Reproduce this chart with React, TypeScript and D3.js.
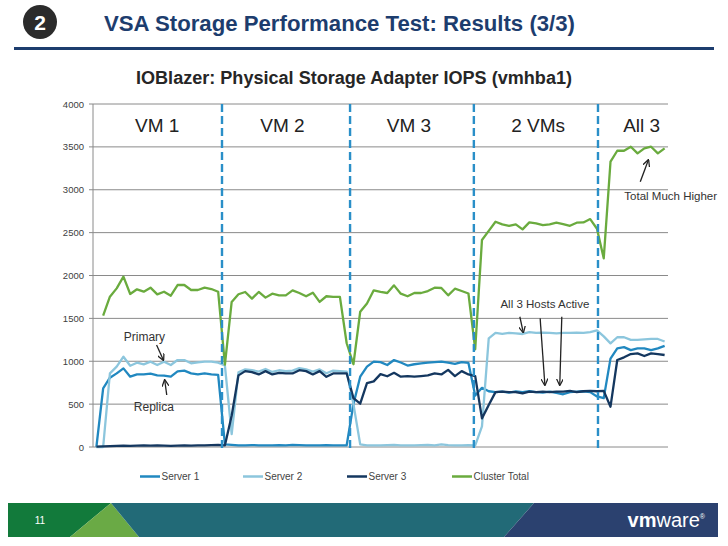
import React from "react";
import * as d3 from "d3";

const W = 728;
const H = 546;

// ---------- data ----------
const seriesNames = ["Server 1", "Server 2", "Server 3", "Cluster Total"];
const seriesColors = ["#2188c0", "#8cc6dd", "#14375f", "#6aab3e"];

const server1: (number | null)[] = [
  0,
  684, 808, 859, 917, 820, 847, 847, 855, 836, 832, 820, 882, 890, 859, 847, 859, 847, 840,
  30,
  25, 20, 20, 22, 20, 18, 20, 22, 20, 25, 22, 20, 18, 20, 22, 20, 18, 20,
  500,
  820, 937, 995, 990, 956, 1014, 985, 950, 965, 975, 985, 990, 995, 985, 970, 990, 980,
  600,
  690, 650, 640, 645, 635, 648, 640, 650, 640, 635, 645, 630, 615, 640, 645, 650, 640, 590,
  570,
  1030, 1150, 1165, 1130, 1150, 1150, 1130, 1150, 1180,
];

const server2: (number | null)[] = [
  0, 0,
  859, 937, 1053, 948, 983, 964, 995, 956, 995, 956, 1014, 1014, 976, 987, 995, 995, 983,
  950,
  150,
  870, 905, 895, 880, 910, 875, 895, 885, 890, 920, 905, 880, 905, 860, 890, 885, 880,
  500,
  30, 20, 18, 20, 22, 25, 20, 18, 20, 22, 25, 20, 30, 22, 18, 20, 22, 20,
  240,
  1267, 1330, 1320, 1330, 1325, 1318, 1340, 1330, 1335, 1330, 1325, 1330, 1330, 1335, 1330, 1340, 1360,
  1290,
  1209, 1280, 1280, 1250, 1250, 1255, 1260, 1260, 1230,
];

const server3: (number | null)[] = [
  5, 8, 10, 12, 15, 12, 15, 18, 15, 18, 15, 12, 15, 18, 15, 18, 20, 22, 25, 20,
  365, 835, 885, 873, 846, 885, 846, 865, 858, 858, 896, 885, 846, 885, 819, 858, 858, 858,
  570, 505, 745, 765, 850, 825, 865, 820, 827, 820, 827, 835, 858, 846, 900, 827, 885, 846, 827,
  334, 490, 640, 645, 640, 640, 625, 645, 640, 645, 640, 645, 645, 655, 640, 650, 655, 650,
  655,
  470, 1015, 1046, 1084, 1092, 1061, 1092, 1084, 1073,
];

const clusterTotal: (number | null)[] = [
  null,
  1531, 1753, 1850, 1986, 1784, 1839, 1811, 1858, 1780, 1811, 1764, 1889, 1889, 1831, 1831, 1858, 1842, 1811,
  960,
  1692, 1781, 1808, 1731, 1808, 1742, 1788, 1769, 1769, 1827, 1796, 1758, 1800, 1692, 1758, 1750, 1750, 1210,
  965,
  1577, 1673, 1827, 1808, 1796, 1885, 1788, 1758, 1796, 1796, 1819, 1858, 1854, 1769, 1846, 1819, 1790,
  1140,
  2414, 2520, 2627, 2596, 2580, 2596, 2538, 2619, 2608, 2588, 2596, 2616, 2600, 2580, 2616, 2619, 2658, 2545,
  2200,
  3327, 3455, 3455, 3502, 3424, 3482, 3502, 3424, 3482,
];

const yTicks = [0, 500, 1000, 1500, 2000, 2500, 3000, 3500, 4000];

// phase boundaries (in sample-index units) and phase labels
const phaseBoundaries = [18.57, 37.5, 55.8, 74.15];
const phaseLabels = ["VM 1", "VM 2", "VM 3", "2 VMs", "All 3"];
const phaseLabelPos = [9.0, 27.5, 46.2, 65.3, 80.6];

// annotations: text, index, value
const noteTexts = ["Primary", "Replica", "All 3 Hosts Active", "Total Much Higher"];
const noteIdx = [7.1, 8.5, 66.3, 84.9];
const noteVal = [1236, 420, 1621, 2880];
// arrows: [i0, v0, i1, v1]
const arrows: [number, number, number, number][] = [
  [8.9, 1189, 9.9, 1014],
  [10.4, 606, 10.1, 781],
  [62.6, 1519, 63.1, 1337],
  [65.6, 1500, 66.3, 723],
  [68.8, 1519, 68.5, 723],
  [80.4, 3093, 81.6, 3346],
];

const FONT = "'Liberation Sans', Arial, Helvetica, sans-serif";

export default function App() {
  const n = server1.length;
  const x = d3
    .scalePoint<number>()
    .domain(d3.range(n))
    .range([93, 668])
    .padding(0.5);
  const step = x.step();
  const xf = (f: number) => (x(0) as number) + f * step;
  const y = d3.scaleLinear().domain([0, 4000]).range([447, 104]);

  const line = d3
    .line<number | null>()
    .defined((d) => d !== null)
    .x((_, i) => x(i) as number)
    .y((d) => y(d as number));

  const allSeries = [server1, server2, server3, clusterTotal];
  const legendX = [140, 243, 347, 452];

  return (
    <svg
      width={W}
      height={H}
      style={{ position: "absolute", left: 0, top: 0, background: "#fff" }}
      fontFamily={FONT}
    >
      <defs>
        <marker
          id="arr"
          viewBox="0 0 10 10"
          refX="9"
          refY="5"
          markerWidth="7"
          markerHeight="7"
          markerUnits="userSpaceOnUse"
          orient="auto"
        >
          <path d="M0,0 L10,5 L0,10" fill="none" stroke="#222" strokeWidth="1.8" />
        </marker>
      </defs>

      {/* slide header */}
      <circle cx={40} cy={22} r={17} fill="#2b2b2b" />
      <text x={40} y={29.5} textAnchor="middle" fill="#fff" fontSize={21} fontWeight="bold">
        2
      </text>
      <text
        x={104}
        y={31}
        fill="#1d3d6e"
        fontSize={22}
        fontWeight="bold"
        textLength={471}
        lengthAdjust="spacingAndGlyphs"
      >
        VSA Storage Performance Test: Results (3/3)
      </text>
      <rect x={14} y={47} width={700} height={3} fill="#1d3d6e" />

      {/* chart title */}
      <text
        x={136}
        y={84}
        fill="#262626"
        fontSize={17.5}
        fontWeight="bold"
        textLength={436}
        lengthAdjust="spacingAndGlyphs"
      >
        IOBlazer: Physical Storage Adapter IOPS (vmhba1)
      </text>

      {/* gridlines and y axis */}
      {yTicks.map((t) => (
        <g key={t}>
          <line x1={89} x2={668} y1={y(t)} y2={y(t)} stroke="#8a8a8a" strokeWidth={1} />
          <text x={84} y={y(t) + 3.5} textAnchor="end" fontSize={9.5} fill="#404040">
            {t}
          </text>
        </g>
      ))}
      <line x1={93} x2={93} y1={y(4000)} y2={y(0)} stroke="#8a8a8a" strokeWidth={1} />

      {/* phase labels */}
      {phaseLabels.map((l, i) => (
        <text
          key={l}
          x={xf(phaseLabelPos[i])}
          y={132}
          textAnchor="middle"
          fontSize={19}
          fill="#222"
        >
          {l}
        </text>
      ))}

      {/* series */}
      {allSeries.map((s, k) => (
        <path
          key={k}
          d={line(s) || ""}
          fill="none"
          stroke={seriesColors[k]}
          strokeWidth={2.3}
          strokeLinejoin="round"
        />
      ))}

      {/* phase boundary dashed lines */}
      {phaseBoundaries.map((b, i) => (
        <line
          key={i}
          x1={xf(b)}
          x2={xf(b)}
          y1={y(4000)}
          y2={y(0) + 2}
          stroke="#2a8fc8"
          strokeWidth={2.4}
          strokeDasharray="8,4"
        />
      ))}

      {/* annotations */}
      {noteTexts.map((t, i) => (
        <text
          key={t}
          x={xf(noteIdx[i])}
          y={y(noteVal[i])}
          textAnchor="middle"
          fontSize={i >= 2 ? 11.5 : 12}
          fill="#333"
        >
          {t}
        </text>
      ))}
      {arrows.map((a, i) => (
        <line
          key={i}
          x1={xf(a[0])}
          y1={y(a[1])}
          x2={xf(a[2])}
          y2={y(a[3])}
          stroke="#222"
          strokeWidth={1.3}
          markerEnd="url(#arr)"
        />
      ))}

      {/* legend */}
      {seriesNames.map((name, k) => (
        <g key={name}>
          <line
            x1={legendX[k]}
            x2={legendX[k] + 20}
            y1={476.5}
            y2={476.5}
            stroke={seriesColors[k]}
            strokeWidth={2.5}
          />
          <text x={legendX[k] + 21.5} y={480} fontSize={10} fill="#444">
            {name}
          </text>
        </g>
      ))}

      {/* footer band */}
      <polygon points="8,503 111,503 70,537 8,537" fill="#127a3b" />
      <polygon points="111,503 70,537 139,537" fill="#6aaa45" />
      <polygon points="111,503 534,503 504,537 139,537" fill="#226a77" />
      <polygon points="534,503 718,503 718,537 504,537" fill="#2b416f" />
      <text x={40} y={523.5} textAnchor="middle" fontSize={10} fill="#fff">
        11
      </text>
      <text x={705} y={527} textAnchor="end" fontSize={20} fill="#fff">
        <tspan fontWeight="bold">vm</tspan>
        <tspan>ware</tspan>
        <tspan fontSize={7} dy={-8}>®</tspan>
      </text>
    </svg>
  );
}
